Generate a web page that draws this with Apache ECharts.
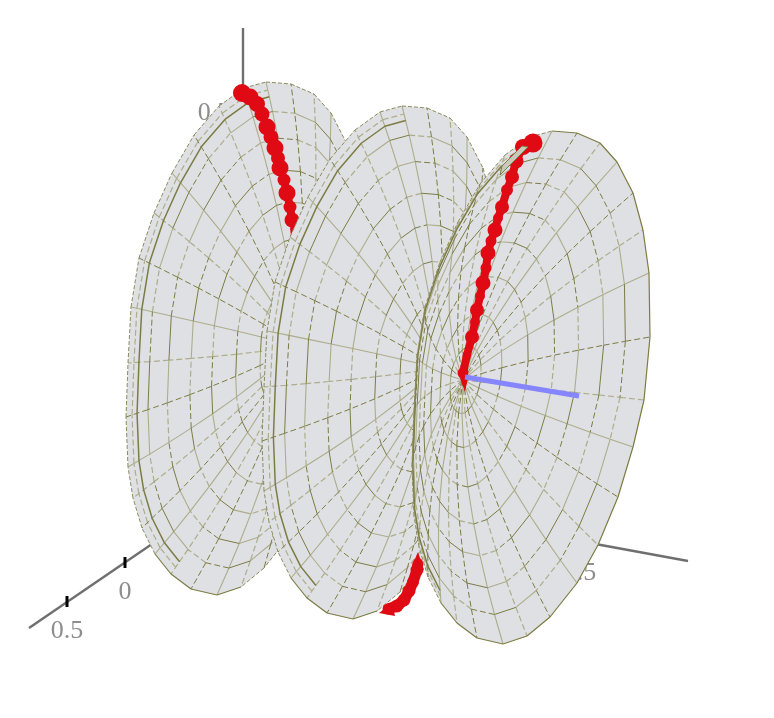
<!DOCTYPE html>
<html><head><meta charset="utf-8">
<style>html,body{margin:0;padding:0;background:#fff}#c{width:774px;height:718px}</style>
<script src="https://cdn.jsdelivr.net/npm/echarts@6/dist/echarts.min.js"></script>
</head><body><div id="c"></div>
<script>
// rim of a disc, read clockwise from the top
const rimShape = [[552,131],[577,133],[600,143],[617,162],[633,193],[643,230],[649,273],[650,337],[644,400],[633,447],[618,497],[598,545],[577,583],[550,617],[527,636],[503,644],[477,638],[457,623],[441,603],[428,577],[419,547],[414,516],[412,466],[414,412],[417,356],[425,307],[440,262],[458,222],[480,184],[505,155],[530,137]];
const discShift = [[-286,-49],[-150,-25],[0,0]];
const discHub = [[297,346],[437,368],[463,380]];
const ringLevels = [0.13,0.26,0.41,0.55,0.67,0.79,0.89];
const frontRingLevels = [0.945,0.97];
const axisLines = [[[243,28],[243,100]],[[29,628],[152,544]],[[590,543],[688,561]]];
const tickMarks = [[[67,596],[67,607]],[[125,557],[125,568]]];
const tickLabels = [['0.5',214,113],['0',125,592],['0.5',67,631],['0.5',580,573]];
const redLeft = [[242,93,18],[250,97,17],[257,104,16],[262,114,15],[267,127,17],[271,137,15],[275,148,17],[278,158,14],[280,168,17],[284,180,13],[287,193,17],[290,207,13],[292,220,15],[296,232,10]];
const redRight = [[463,373,11],[467,355,9],[472,337,14],[475,322,10],[477,310,14],[480,296,10],[483,283,15],[486,268,11],[488,253,15],[491,241,11],[495,230,15],[498,218,10],[502,207,14],[507,190,12],[512,177,14],[516,161,15],[523,147,16],[533,143,19]];
const redBottom = [[418,563,10],[417,570,13],[413,582,12],[409,591,13],[404,600,13],[397,606,13],[388,609,11]];
const redTails = [[[290,228],[301,231],[293,252]],[[460,378],[468,378],[465,392]],[[412,566],[418,552],[424,570]],[[392,603],[379,613],[395,616]]];
const rimSliver = [[500,175],[528,147],[522,146],[502,166]];
const blueVector = [[465,377],[579,396]];

const FILL='#dfe0e3', RED='#e00a14';
let series=[], z=1;
function poly(pts,color,stroke){
  series.push({type:'custom',coordinateSystem:'cartesian2d',silent:true,z:z++,clip:false,data:pts,encode:{x:0,y:1},
    renderItem(p,api){ if(p.dataIndex) return null;
      return {type:'polygon',shape:{points:pts.map(q=>api.coord(q))},style:{fill:color,stroke:stroke||null,lineWidth:1}};}});
}
function line(data,color,width,dash,cap){
  series.push({type:'line',silent:true,z:z++,symbol:'none',showSymbol:false,data,clip:false,animation:false,
    lineStyle:{color,width,type:dash||'solid',cap:cap||'butt',join:'round'}});
}
function dotted(pts,width){
  series.push({type:'line',silent:true,z:z++,data:pts,encode:{x:0,y:1},clip:false,showSymbol:true,showAllSymbol:true,symbol:'circle',
    symbolSize:v=>v[2],itemStyle:{color:RED,opacity:1},lineStyle:{color:RED,width,join:'round'}});
}
const BREAK=[NaN,NaN];
const DARK='#7c7c44', LIGHT='#adad8c';
function disc(i){
  const s=discShift[i], hub=discHub[i];
  const rim=rimShape.map(p=>[p[0]+s[0],p[1]+s[1]]);
  const n=rim.length;
  const cx=(Math.min(...rim.map(p=>p[0]))+Math.max(...rim.map(p=>p[0])))/2;
  const cy=(Math.min(...rim.map(p=>p[1]))+Math.max(...rim.map(p=>p[1])))/2;
  const P=(rho,j)=>{const q=rim[j%n],g=Math.pow(rho,1.6);
    return [hub[0]+rho*(q[0]-cx)+g*(cx-hub[0]), hub[1]+rho*(q[1]-cy)+g*(cy-hub[1])];};
  poly(rim,FILL);
  const cls={sd:[],sl:[],dd:[],dl:[],heavy:[]};
  const levels=[0,...ringLevels,1];
  for(let j=0;j<n;j++){
    for(let k=0;k<levels.length-1;k++){
      const key=(j%3===0)?'sl':((j%3===1)?'dd':'dl');
      cls[key].push(P(levels[k],j),P(levels[k+1],j),BREAK);
    }
  }
  for(let k=0;k<ringLevels.length;k++){
    const r=ringLevels[k];
    for(let j=0;j<n;j++){
      const key=((j+k)%4===0)?'sd':((j+k)%4===1?'dd':((j+k)%4===2?'dl':'sl'));
      cls[key].push(P(r,j),P(r,j+1),BREAK);
    }
  }
  // the two arcs just inside the rim on the side facing the viewer
  const first=i<2?17:18, last=i<2?n:n-1;
  for(let j=first;j<last;j++){
    cls.heavy.push(P(frontRingLevels[0],j),P(frontRingLevels[0],j+1),BREAK);
    cls.dl.push(P(frontRingLevels[1],j),P(frontRingLevels[1],j+1),BREAK);
  }
  const rimDark=[],rimLight=[];
  for(let j=0;j<n;j++){
    const a=rim[j],b=rim[(j+1)%n];
    ((i===2?(j<18):(j>=14&&j<=17))?rimDark:rimLight).push(a,b,BREAK);
  }
  line(cls.dl,LIGHT,1.2,[6,3]);
  line(cls.sl,LIGHT,1.1);
  line(cls.dd,DARK,1,[6,3]);
  line(cls.sd,DARK,1);
  line(cls.heavy,DARK,1.5);
  line(rimLight,'#8c8c60',1,[4,2]);
  line(rimDark,DARK,1.2);
}
series.push({type:'scatter',silent:true,z:z++,symbolSize:0,clip:false,data:tickLabels.map(t=>({value:[t[1],t[2]],name:t[0]})),
  label:{show:true,position:'inside',formatter:p=>p.name,fontFamily:'"Liberation Serif",serif',fontSize:26,color:'#707070'}});
axisLines.forEach(a=>line(a,'#6f6f6f',2.4));
tickMarks.forEach(a=>line(a,'#000',3));
disc(0);
dotted(redLeft,8);
poly(redTails[0],RED);
disc(1);
dotted(redBottom,11);
poly(redTails[2],RED);
poly(redTails[3],RED);
disc(2);
dotted(redRight,8);
poly(redTails[1],RED);
poly(rimSliver,'#c9c9bb',DARK);
line(blueVector,'#8585ff',5);

const chart=echarts.init(document.getElementById('c'),null,{renderer:'canvas'});
chart.setOption({animation:false,backgroundColor:'#fff',
  grid:{left:0,right:0,top:0,bottom:0},
  xAxis:{type:'value',min:0,max:774,show:false},
  yAxis:{type:'value',min:0,max:718,inverse:true,show:false},
  tooltip:{show:false},legend:{show:false},
  series});
</script></body></html>
